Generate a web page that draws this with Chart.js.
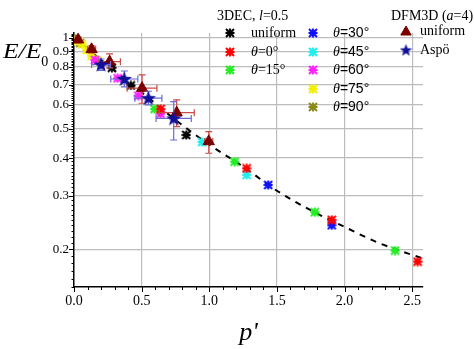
<!DOCTYPE html>
<html>
<head>
<meta charset="utf-8">
<script src="https://cdn.jsdelivr.net/npm/chart.js@4.4.1/dist/chart.umd.min.js"></script>
<style>
  html, body { margin: 0; padding: 0; background: #fff; }
  #wrap { width: 474px; height: 349px; }
</style>
</head>
<body>
<div id="wrap"><canvas id="chart" width="474" height="349"></canvas></div>
<script>
// axis ticks
const xTicks = [0, 0.5, 1.0, 1.5, 2.0, 2.5];
const yTicks = [0.2, 0.3, 0.4, 0.5, 0.6, 0.7, 0.8, 0.9, 1.0];

// dashed fit curve
const curveP = [0, 0.25, 0.5, 0.75, 1.0, 1.25, 1.5, 1.75, 2.0, 2.25, 2.6];
const curveE = [1.0, 0.81, 0.66, 0.535, 0.443, 0.375, 0.312, 0.269, 0.237, 0.210, 0.185];

// 3DEC, l=0.5
const uniformP = [0.28, 0.42, 0.83];
const uniformE = [0.795, 0.695, 0.477];
const theta0P = [0.64, 1.276, 1.905, 2.54];
const theta0E = [0.581, 0.370, 0.250, 0.182];
const theta15P = [0.596, 1.187, 1.78, 2.374];
const theta15E = [0.581, 0.389, 0.265, 0.198];
const theta30P = [1.436, 1.905];
const theta30E = [0.326, 0.240];
const theta45P = [0.947, 1.276];
const theta45E = [0.452, 0.352];
const theta60P = [0.157, 0.322, 0.476, 0.639];
const theta60E = [0.844, 0.734, 0.643, 0.560];
const theta75P = [0.03, 0.06, 0.095, 0.13, 0.17];
const theta75E = [0.975, 0.95, 0.91, 0.87, 0.84];
const theta90P = [0.01, 0.045];
const theta90E = [0.99, 0.96];

// DFM3D (a=4)
const triP = [0.03, 0.13, 0.263, 0.503, 0.759, 0.996];
const triE = [0.985, 0.915, 0.833, 0.681, 0.565, 0.454];
const triPErr = [0.02, 0.03, 0.08, 0.11, 0.13, 0.03];
const triELo = [0.96, 0.89, 0.794, 0.607, 0.508, 0.415];
const triEHi = [1.0, 0.94, 0.884, 0.753, 0.623, 0.489];

const aspoP = [0.20, 0.372, 0.55, 0.737];
const aspoE = [0.815, 0.730, 0.631, 0.541];
const aspoPErr = [0.07, 0.10, 0.10, 0.13];
const aspoELo = [0.78, 0.688, 0.60, 0.459];
const aspoEHi = [0.85, 0.776, 0.665, 0.615];

const SERIF = "'Liberation Serif', 'DejaVu Serif', serif";
const SANS = "'Liberation Sans', Arial, sans-serif";

const pts = (p, e) => p.map((x, i) => ({ x: x, y: e[i] }));

// filled five point star marker
function makeStar(size, color) {
    const c = document.createElement("canvas");
    c.width = size; c.height = size;
    const g = c.getContext("2d");
    const R = size / 2, r = R * 0.42;
    g.beginPath();
    for (let i = 0; i < 10; i++) {
        const rad = i % 2 ? r : R;
        const a = -Math.PI / 2 + i * Math.PI / 5;
        g.lineTo(R + rad * Math.cos(a), R + 0.5 + rad * Math.sin(a));
    }
    g.closePath();
    g.fillStyle = color;
    g.fill();
    return c;
}

// square-ish asterisk like the 3DEC symbols
function makeAster(color) {
    const c = document.createElement("canvas");
    c.width = 10; c.height = 10;
    const g = c.getContext("2d");
    g.strokeStyle = color;
    g.lineWidth = 1.9;
    g.beginPath();
    g.moveTo(0.5, 5); g.lineTo(9.5, 5);
    g.moveTo(5, 0.5); g.lineTo(5, 9.5);
    g.moveTo(1, 1); g.lineTo(9, 9);
    g.moveTo(9, 1); g.lineTo(1, 9);
    g.stroke();
    g.globalAlpha = 0.35;
    g.fillStyle = color;
    g.fillRect(1.5, 1.5, 7, 7);
    return c;
}

const starImg = makeStar(16, "#10109a");
const starImgSmall = makeStar(13, "#10109a");

function dec(label, p, e, color) {
    return {
        label: label, data: pts(p, e), order: 5,
        pointStyle: makeAster(color), pointRadius: 5
    };
}

const datasets = [
    {
        label: "fit", data: pts(curveP, curveE), showLine: true, order: 6,
        borderColor: "#000", borderWidth: 2, borderDash: [6, 6],
        pointRadius: 0, cubicInterpolationMode: "monotone"
    },
    dec("uniform", uniformP, uniformE, "#000000"),
    dec("θ=0°", theta0P, theta0E, "#ff0000"),
    dec("θ=15°", theta15P, theta15E, "#22ee22"),
    dec("θ=30°", theta30P, theta30E, "#1010ff"),
    dec("θ=45°", theta45P, theta45E, "#22eeee"),
    dec("θ=60°", theta60P, theta60E, "#ff22ff"),
    dec("θ=75°", theta75P, theta75E, "#f0f000"),
    dec("θ=90°", theta90P, theta90E, "#8a8a1a"),
    {
        label: "DFM uniform", data: pts(triP, triE), order: 2,
        pointStyle: "triangle", pointRadius: 6.5, pointBorderWidth: 1,
        borderColor: "#7a0000", backgroundColor: "#7a0000",
        errP: triPErr, errLo: triELo, errHi: triEHi, errColor: "#cc4a44"
    },
    {
        label: "Aspö", data: pts(aspoP, aspoE), order: 1,
        pointStyle: starImg, pointRadius: 8,
        errP: aspoPErr, errLo: aspoELo, errHi: aspoEHi, errColor: "#6a6ad8"
    }
];

const errorBars = {
    id: "errorBars",
    beforeDatasetDraw(chart, args) {
        const ds = chart.data.datasets[args.index];
        if (!ds.errP) return;
        const c = chart.ctx, xs = chart.scales.x, ys = chart.scales.y;
        c.save();
        c.strokeStyle = ds.errColor;
        c.lineWidth = 1.2;
        ds.data.forEach((d, i) => {
            const cx = xs.getPixelForValue(d.x), cy = ys.getPixelForValue(d.y);
            const x1 = xs.getPixelForValue(d.x - ds.errP[i]);
            const x2 = xs.getPixelForValue(d.x + ds.errP[i]);
            const y1 = ys.getPixelForValue(ds.errHi[i]);
            const y2 = ys.getPixelForValue(ds.errLo[i]);
            c.beginPath();
            c.moveTo(x1, cy); c.lineTo(x2, cy);
            c.moveTo(x1, cy - 3.5); c.lineTo(x1, cy + 3.5);
            c.moveTo(x2, cy - 3.5); c.lineTo(x2, cy + 3.5);
            c.moveTo(cx, y1); c.lineTo(cx, y2);
            c.moveTo(cx - 3.5, y1); c.lineTo(cx + 3.5, y1);
            c.moveTo(cx - 3.5, y2); c.lineTo(cx + 3.5, y2);
            c.stroke();
        });
        c.restore();
    }
};

// minor ticks, axis titles and the hand placed legend
const decor = {
    id: "decor",
    afterDraw(chart) {
        const c = chart.ctx, xs = chart.scales.x, ys = chart.scales.y;
        const a = chart.chartArea;
        c.save();
        c.strokeStyle = "#000";
        c.lineWidth = 1;
        c.beginPath();
        for (let i = 0; i <= 25; i++) {
            const px = Math.round(xs.getPixelForValue(i / 10)) + 0.5;
            c.moveTo(px, a.bottom);
            c.lineTo(px, a.bottom + (i % 5 === 0 ? 5 : 3));
        }
        for (let i = 15; i <= 103; i++) {
            const py = Math.round(ys.getPixelForValue(i / 100)) + 0.5;
            c.moveTo(a.left, py);
            c.lineTo(a.left - (i % 10 === 0 ? 5 : 2.5), py);
        }
        c.stroke();

        c.fillStyle = "#000";
        c.textBaseline = "alphabetic";
        // y title E/E0
        c.save();
        c.translate(3, 58);
        c.scale(1.16, 1);
        c.font = "italic 22px " + SERIF;
        c.fillText("E/E", 0, 0);
        const w = c.measureText("E/E").width * 1.16;
        c.restore();
        c.font = "14px " + SERIF;
        c.fillText("0", 3 + w, 66);
        // x title
        c.font = "italic 26px " + SERIF;
        c.textAlign = "center";
        c.fillText("p'", (a.left + a.right) / 2, 340);
        c.textAlign = "left";

        // legend
        c.textBaseline = "middle";
        const seg = (parts, x, y) => {
            parts.forEach(([t, f]) => {
                c.font = f;
                c.fillText(t, x, y);
                x += c.measureText(t).width;
            });
        };
        const reg = "14px " + SERIF, it = "italic 14px " + SERIF, sans = "14px " + SANS;
        seg([["3DEC, ", reg], ["l", it], ["=0.5", reg]], 217, 16);
        seg([["DFM3D (", reg], ["a", it], ["=4)", reg]], 391, 16);

        const dsByLabel = {};
        chart.data.datasets.forEach(d => { dsByLabel[d.label] = d; });
        const dot = (label, x, y) => {
            const img = dsByLabel[label].pointStyle;
            c.drawImage(img, x - img.width / 2, y - img.height / 2);
        };
        const rowY = [33, 52, 70, 89, 107];
        dot("uniform", 230, rowY[0]); seg([["uniform", reg]], 251, rowY[0]);
        dot("θ=0°", 230, rowY[1]); seg([["θ", it], ["=0°", reg]], 251, rowY[1]);
        dot("θ=15°", 230, rowY[2]); seg([["θ", it], ["=15°", reg]], 251, rowY[2]);
        ["30", "45", "60", "75", "90"].forEach((t, i) => {
            dot("θ=" + t + "°", 313, rowY[i]);
            seg([["θ", it], ["=" + t + "°", sans]], 333, rowY[i]);
        });

        c.fillStyle = "#7a0000";
        c.strokeStyle = "#7a0000";
        c.lineWidth = 1;
        Chart.helpers.drawPoint(c, { pointStyle: "triangle", radius: 6, borderWidth: 1, rotation: 0 }, 406, 32);
        c.drawImage(starImgSmall, 406 - 6.5, 50 - 6.5);
        c.fillStyle = "#000";
        seg([["uniform", reg]], 420, 31);
        seg([["Aspö", reg]], 420, 50);
        c.restore();
    }
};

new Chart(document.getElementById("chart"), {
    type: "scatter",
    data: { datasets: datasets },
    options: {
        responsive: false,
        animation: false,
        events: [],
        layout: { padding: { left: 0, right: 51, top: 33, bottom: 0 } },
        plugins: { legend: { display: false }, tooltip: { enabled: false } },
        scales: {
            x: {
                type: "linear", min: 0, max: 2.58,
                afterBuildTicks: s => { s.ticks = xTicks.map(v => ({ value: v })); },
                afterFit: s => { s.height = 62; },
                ticks: {
                    callback: v => v.toFixed(1), color: "#000", padding: 6,
                    maxRotation: 0, autoSkip: false,
                    font: { family: SERIF, size: 14 }
                },
                grid: {
                    color: ctx => (ctx.tick && ctx.tick.value > 0 ? "#bdbdbd" : "rgba(0,0,0,0)"),
                    drawTicks: false, lineWidth: 1.2
                },
                border: { color: "#000", width: 1.5 }
            },
            y: {
                type: "logarithmic", min: 0.15, max: 1.036,
                afterBuildTicks: s => { s.ticks = yTicks.map(v => ({ value: v })); },
                afterFit: s => { s.width = 74; },
                ticks: {
                    callback: v => (v === 1 ? "1" : v.toFixed(1)), color: "#000", padding: 5,
                    autoSkip: false, font: { family: SERIF, size: 13 }
                },
                grid: { color: "#bdbdbd", drawTicks: false, lineWidth: 1.2 },
                border: { color: "#000", width: 1.5 }
            }
        }
    },
    plugins: [errorBars, decor]
});
</script>
</body>
</html>
